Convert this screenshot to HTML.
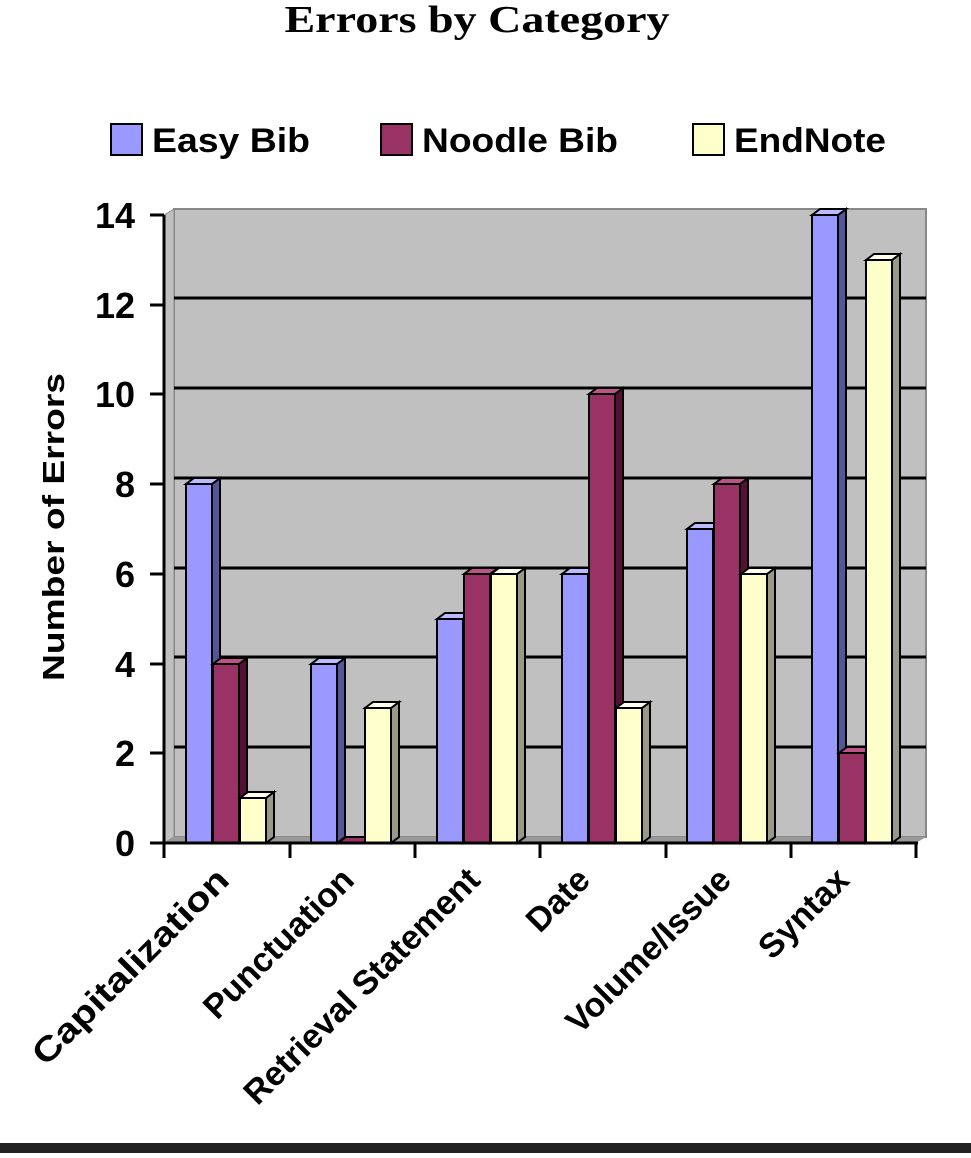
<!DOCTYPE html>
<html><head><meta charset="utf-8"><style>body{margin:0;background:#fff}svg{display:block}</style></head>
<body>
<svg width="971" height="1158" xmlns="http://www.w3.org/2000/svg" font-family="Liberation Sans, Arial, sans-serif">
<text x="477" y="32" text-anchor="middle" font-family="Liberation Serif, serif" font-weight="bold" font-size="38" textLength="385" lengthAdjust="spacingAndGlyphs">Errors by Category</text>
<g font-weight="bold" font-size="34">
<rect x="111" y="124" width="31" height="31" fill="#9999ff" stroke="#000" stroke-width="2"/>
<text x="152" y="152" textLength="158" lengthAdjust="spacingAndGlyphs">Easy Bib</text>
<rect x="381" y="124" width="31" height="31" fill="#993366" stroke="#000" stroke-width="2"/>
<text x="422" y="152" textLength="196" lengthAdjust="spacingAndGlyphs">Noodle Bib</text>
<rect x="693" y="124" width="31" height="31" fill="#ffffcc" stroke="#000" stroke-width="2"/>
<text x="734" y="152" textLength="152" lengthAdjust="spacingAndGlyphs">EndNote</text>
</g>
<rect x="174" y="209" width="752" height="628" fill="#c0c0c0" stroke="#888" stroke-width="2"/>
<polygon points="164,215 174,209 174,837 164,843" fill="#c0c0c0" stroke="#888" stroke-width="1"/>
<polygon points="164,843 174,837 926,837 916,843" fill="#999"/>
<g stroke="#000" stroke-width="3">
<line x1="174" y1="747" x2="926" y2="747"/><line x1="174" y1="657" x2="926" y2="657"/>
<line x1="174" y1="568" x2="926" y2="568"/><line x1="174" y1="478" x2="926" y2="478"/>
<line x1="174" y1="388" x2="926" y2="388"/><line x1="174" y1="298" x2="926" y2="298"/>
</g>
<g stroke="#000" stroke-width="2">
<polygon points="212,484 220,478 220,837 212,843" fill="#555599"/><polygon points="186,484 194,478 220,478 212,484" fill="#bbbbff"/><rect x="186" y="484" width="26" height="359" fill="#9999ff"/>
<polygon points="239,664 247,658 247,837 239,843" fill="#551133"/><polygon points="213,664 221,658 247,658 239,664" fill="#bb5588"/><rect x="213" y="664" width="26" height="179" fill="#993366"/>
<polygon points="266,798 274,792 274,837 266,843" fill="#999988"/><polygon points="240,798 248,792 274,792 266,798" fill="#ffffee"/><rect x="240" y="798" width="26" height="45" fill="#ffffcc"/>
<polygon points="337,664 345,658 345,837 337,843" fill="#555599"/><polygon points="311,664 319,658 345,658 337,664" fill="#bbbbff"/><rect x="311" y="664" width="26" height="179" fill="#9999ff"/>
<polygon points="338,843 346,837 372,837 364,843" fill="#993366"/>
<polygon points="391,708 399,702 399,837 391,843" fill="#999988"/><polygon points="365,708 373,702 399,702 391,708" fill="#ffffee"/><rect x="365" y="708" width="26" height="135" fill="#ffffcc"/>
<polygon points="463,619 471,613 471,837 463,843" fill="#555599"/><polygon points="437,619 445,613 471,613 463,619" fill="#bbbbff"/><rect x="437" y="619" width="26" height="224" fill="#9999ff"/>
<polygon points="490,574 498,568 498,837 490,843" fill="#551133"/><polygon points="464,574 472,568 498,568 490,574" fill="#bb5588"/><rect x="464" y="574" width="26" height="269" fill="#993366"/>
<polygon points="517,574 525,568 525,837 517,843" fill="#999988"/><polygon points="491,574 499,568 525,568 517,574" fill="#ffffee"/><rect x="491" y="574" width="26" height="269" fill="#ffffcc"/>
<polygon points="588,574 596,568 596,837 588,843" fill="#555599"/><polygon points="562,574 570,568 596,568 588,574" fill="#bbbbff"/><rect x="562" y="574" width="26" height="269" fill="#9999ff"/>
<polygon points="615,394 623,388 623,837 615,843" fill="#551133"/><polygon points="589,394 597,388 623,388 615,394" fill="#bb5588"/><rect x="589" y="394" width="26" height="449" fill="#993366"/>
<polygon points="642,708 650,702 650,837 642,843" fill="#999988"/><polygon points="616,708 624,702 650,702 642,708" fill="#ffffee"/><rect x="616" y="708" width="26" height="135" fill="#ffffcc"/>
<polygon points="713,529 721,523 721,837 713,843" fill="#555599"/><polygon points="687,529 695,523 721,523 713,529" fill="#bbbbff"/><rect x="687" y="529" width="26" height="314" fill="#9999ff"/>
<polygon points="740,484 748,478 748,837 740,843" fill="#551133"/><polygon points="714,484 722,478 748,478 740,484" fill="#bb5588"/><rect x="714" y="484" width="26" height="359" fill="#993366"/>
<polygon points="767,574 775,568 775,837 767,843" fill="#999988"/><polygon points="741,574 749,568 775,568 767,574" fill="#ffffee"/><rect x="741" y="574" width="26" height="269" fill="#ffffcc"/>
<polygon points="838,215 846,209 846,837 838,843" fill="#555599"/><polygon points="812,215 820,209 846,209 838,215" fill="#bbbbff"/><rect x="812" y="215" width="26" height="628" fill="#9999ff"/>
<polygon points="865,753 873,747 873,837 865,843" fill="#551133"/><polygon points="839,753 847,747 873,747 865,753" fill="#bb5588"/><rect x="839" y="753" width="26" height="90" fill="#993366"/>
<polygon points="892,260 900,254 900,837 892,843" fill="#999988"/><polygon points="866,260 874,254 900,254 892,260" fill="#ffffee"/><rect x="866" y="260" width="26" height="583" fill="#ffffcc"/>
</g>
<g stroke="#000" stroke-width="3" fill="none">
<line x1="164" y1="215" x2="164" y2="845"/>
<line x1="150" y1="843" x2="918" y2="843"/>
<line x1="150" y1="215" x2="164" y2="215"/><line x1="150" y1="305" x2="164" y2="305"/>
<line x1="150" y1="394" x2="164" y2="394"/><line x1="150" y1="484" x2="164" y2="484"/>
<line x1="150" y1="574" x2="164" y2="574"/><line x1="150" y1="664" x2="164" y2="664"/>
<line x1="150" y1="753" x2="164" y2="753"/>
<line x1="164" y1="843" x2="164" y2="858"/><line x1="290" y1="843" x2="290" y2="858"/>
<line x1="415" y1="843" x2="415" y2="858"/><line x1="540" y1="843" x2="540" y2="858"/>
<line x1="666" y1="843" x2="666" y2="858"/><line x1="791" y1="843" x2="791" y2="858"/>
<line x1="916" y1="843" x2="916" y2="858"/>
</g>
<g font-weight="bold" font-size="36" text-anchor="end">
<text x="135" y="228">14</text><text x="135" y="318">12</text><text x="135" y="407">10</text>
<text x="135" y="497">8</text><text x="135" y="587">6</text><text x="135" y="677">4</text>
<text x="135" y="766">2</text><text x="135" y="856">0</text>
</g>
<text transform="translate(64,527) rotate(-90)" text-anchor="middle" font-weight="bold" font-size="31" textLength="308" lengthAdjust="spacingAndGlyphs">Number of Errors</text>
<g font-weight="bold" font-size="34" text-anchor="end">
<text transform="translate(231,882) rotate(-45)" textLength="262" lengthAdjust="spacingAndGlyphs">Capitalization</text>
<text transform="translate(356,882) rotate(-45)">Punctuation</text>
<text transform="translate(482,882) rotate(-45)">Retrieval Statement</text>
<text transform="translate(592,882) rotate(-45)">Date</text>
<text transform="translate(733,882) rotate(-45)">Volume/Issue</text>
<text transform="translate(851,882) rotate(-45)">Syntax</text>
</g>
<rect x="0" y="1143" width="971" height="10" fill="#222"/>
</svg>
</body></html>
